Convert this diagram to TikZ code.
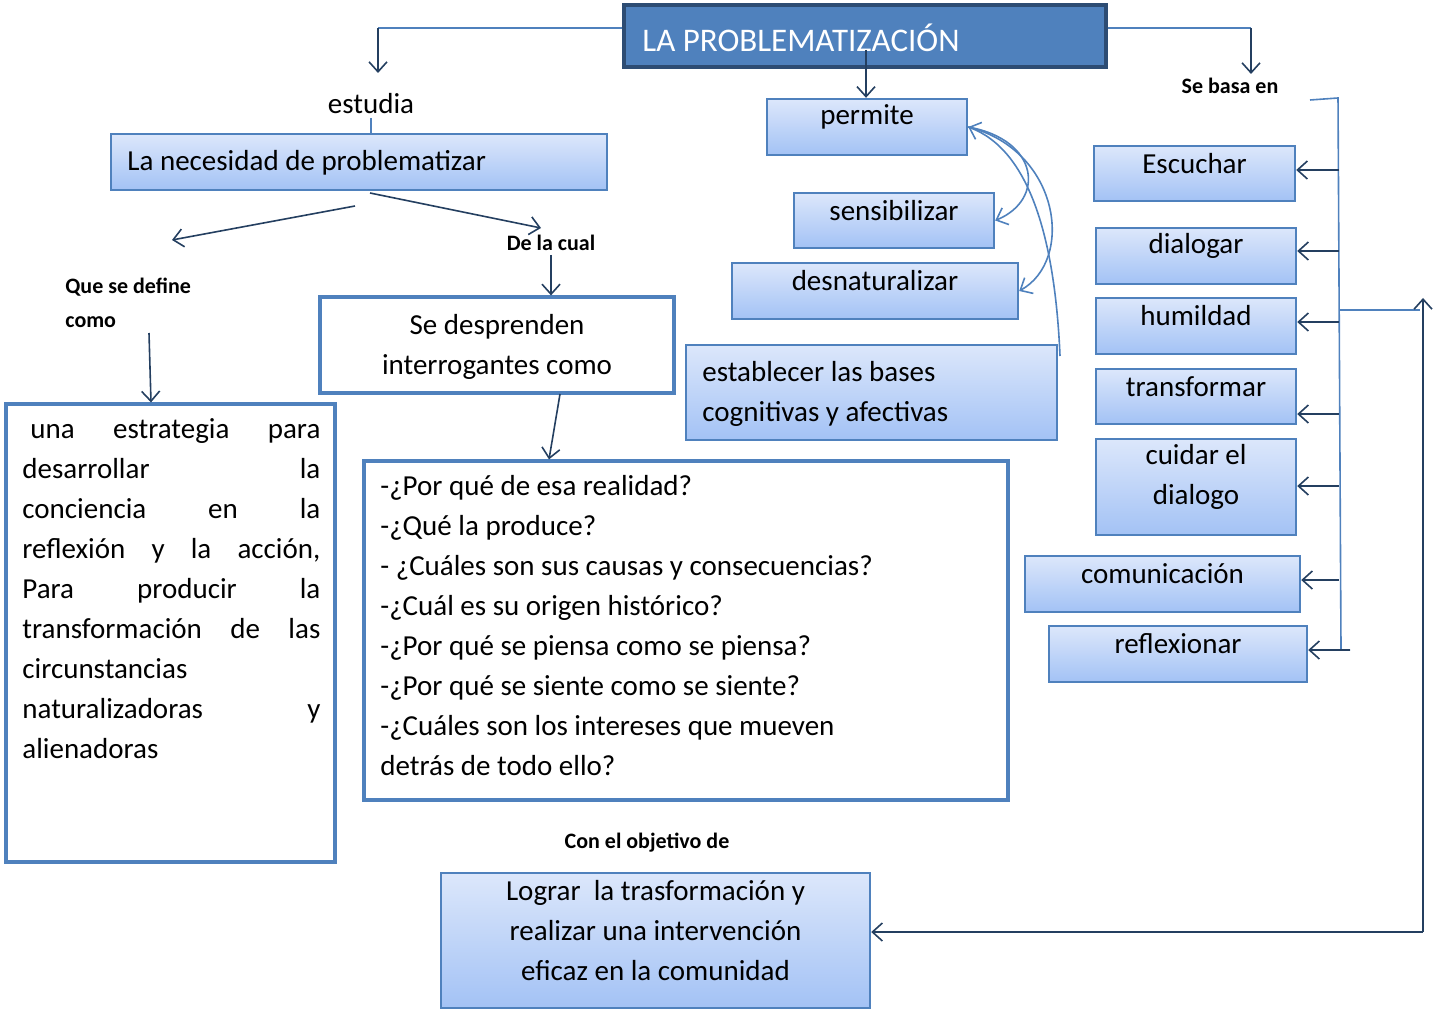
\documentclass[tikz,border=0pt]{standalone}
\usepackage{fontspec}
\setmainfont{Carlito}
\usetikzlibrary{fit,arrows.meta}
\definecolor{bdr}{HTML}{4F81BD}
\definecolor{dk}{HTML}{243F60}
\definecolor{tbox}{HTML}{DCE7FB}
\definecolor{bbox}{HTML}{A3C2F5}
\newcommand{\jl}[1]{\makebox[149pt][l]{#1}}
\tikzset{
 box/.style={draw=bdr, line width=1.2pt, top color=tbox, bottom color=bbox, inner sep=0pt, font=\fontsize{14.5}{20}\selectfont, align=center},
 wbox/.style={draw=bdr, line width=1.6pt, fill=white, inner sep=0pt},
 txt/.style={font=\fontsize{14.5}{20}\selectfont, inner sep=0pt},
 lbl/.style={font=\fontsize{11}{17}\selectfont\bfseries, inner sep=0pt},
 ln/.style={draw=bdr, line width=0.8pt},
 ar/.style={draw=dk, line width=0.8pt, -{Straight Barb[length=5pt,width=9pt]}},
 arb/.style={draw=bdr, line width=0.8pt, -{Straight Barb[length=5pt,width=9pt]}},
}
\begin{document}
\begin{tikzpicture}[x=0.5pt,y=-0.5pt]
\useasboundingbox (0,0) rectangle (1438,1021);
% title
\node[draw=dk!80!bdr, line width=1.6pt, fill=bdr, inner sep=0pt, fit={(624,5)(1106,67)}] (t) {};
\node[anchor=west, text=white, font=\fontsize{16.5}{20}\selectfont, inner sep=0pt] (tt) at (642,38) {LA PROBLEMATIZACIÓN};
% blue boxes
\node[box, fit={(111,134)(607,190)}] (nec) {};
\node[txt, anchor=west] at (127,163) {La necesidad de problematizar};
\node[box, fit={(767,99)(967,155)}] (per) {permite};
\node[box, fit={(794,193)(994,248)}] (sen) {sensibilizar};
\node[box, fit={(732,263)(1018,319)}] (des) {desnaturalizar};
\node[box, fit={(686,345)(1057,440)}] (est) {};
\node[txt, anchor=west, align=left] at (702,394) {establecer las bases\\cognitivas y afectivas};
\node[box, fit={(1094,146)(1295,201)}] (esc) {Escuchar};
\node[box, fit={(1096,228)(1296,284)}] (dia) {dialogar};
\node[box, fit={(1096,298)(1296,354)}] (hum) {humildad};
\node[box, fit={(1096,369)(1296,424)}] (tra) {transformar};
\node[box, fit={(1096,439)(1296,535)}] (cui) {cuidar el\\dialogo};
\node[box, fit={(1025,556)(1300,612)}] (com) {comunicación};
\node[box, fit={(1049,626)(1307,682)}] (ref) {reflexionar};
\node[box, fit={(441,873)(870,1008)}] (log) {Lograr\ \ la trasformación y\\realizar una intervención\\eficaz en la comunidad};
% white boxes
\node[wbox, fit={(320,297)(674,393)}] (sd) {};
\node[txt, align=center] at (497,347) {Se desprenden\\interrogantes como};
\node[wbox, fit={(6,404)(335,862)}] (una) {};
\node[txt, anchor=north west, align=left] at (22,418) {%
\jl{\hspace{4pt}una\hfill estrategia\hfill para}\\
\jl{desarrollar\hfill la}\\
\jl{conciencia\hfill en\hfill la}\\
\jl{reflexión\hfill y\hfill la\hfill acción,}\\
\jl{Para\hfill producir\hfill la}\\
\jl{transformación\hfill de\hfill las}\\
\jl{circunstancias}\\
\jl{naturalizadoras\hfill y}\\
\jl{alienadoras}};
\node[wbox, fit={(364,461)(1008,800)}] (q) {};
\node[txt, anchor=north west, align=left] at (380,475) {-¿Por qué de esa realidad?\\-¿Qué la produce?\\- ¿Cuáles son sus causas y consecuencias?\\-¿Cuál es su origen histórico?\\-¿Por qué se piensa como se piensa?\\-¿Por qué se siente como se siente?\\-¿Cuáles son los intereses que mueven\\detrás de todo ello?};
% labels
\node[txt] (estudia) at (371,104) {estudia};
\node[lbl] (dlc) at (551,243) {De la cual};
\node[lbl, anchor=north west, align=left] (qsd) at (65,278) {Que se define\\como};
\node[lbl] (sbe) at (1230,86) {Se basa en};
\node[lbl] (ceo) at (647,843) {Con el objetivo de};
% connectors
\coordinate (c1) at (378,28);
\draw[ln] (t.west |- 0,28) -- (c1);
\draw[ar] (c1) -- (378,73);
\draw[ln] (371,118) -- (nec.north -| 371,0);
\draw[ar] (866,50) -- (per.north -| 866,0);
\draw[ln] (t.east |- 0,28) -- (1251,28);
\draw[ar] (1251,28) -- (1251,74);
\draw[ar] (355,206) -- (172,240);
\draw[ar] (370,193) -- (541,228);
\draw[ar] (551,255) -- (sd.north -| 551,0);
\draw[ar] (149,333) -- (una.north -| 151,0);
\draw[ar] (560,394) -- (q.north -| 549,0);
% curves from permite
\draw[arb] (1060,356) .. controls (1055,240) and (1030,150) .. (per.east);
\draw[arb] (per.east) .. controls (1040,140) and (1045,200) .. (sen.east);
\draw[arb] (per.east) .. controls (1060,150) and (1075,260) .. (des.east);
% right bracket
\draw[ln] (1310,100) -- (1338,98) -- (1341,650) -- (1350,650);
\foreach \n/\y in {esc/170, dia/251, hum/322, tra/414, cui/486, com/580}{
 \draw[ar] (1339,\y) -- (\n.east |- 0,\y);
}
\draw[ar] (1350,650) -- (ref.east |- 0,650);
\draw[ln] (1340,310) -- (1420,310);
\draw[ar] (1423,932) -- (1423,298);
\draw[ar] (1423,932) -- (log.east |- 0,932);
\end{tikzpicture}
\end{document}
